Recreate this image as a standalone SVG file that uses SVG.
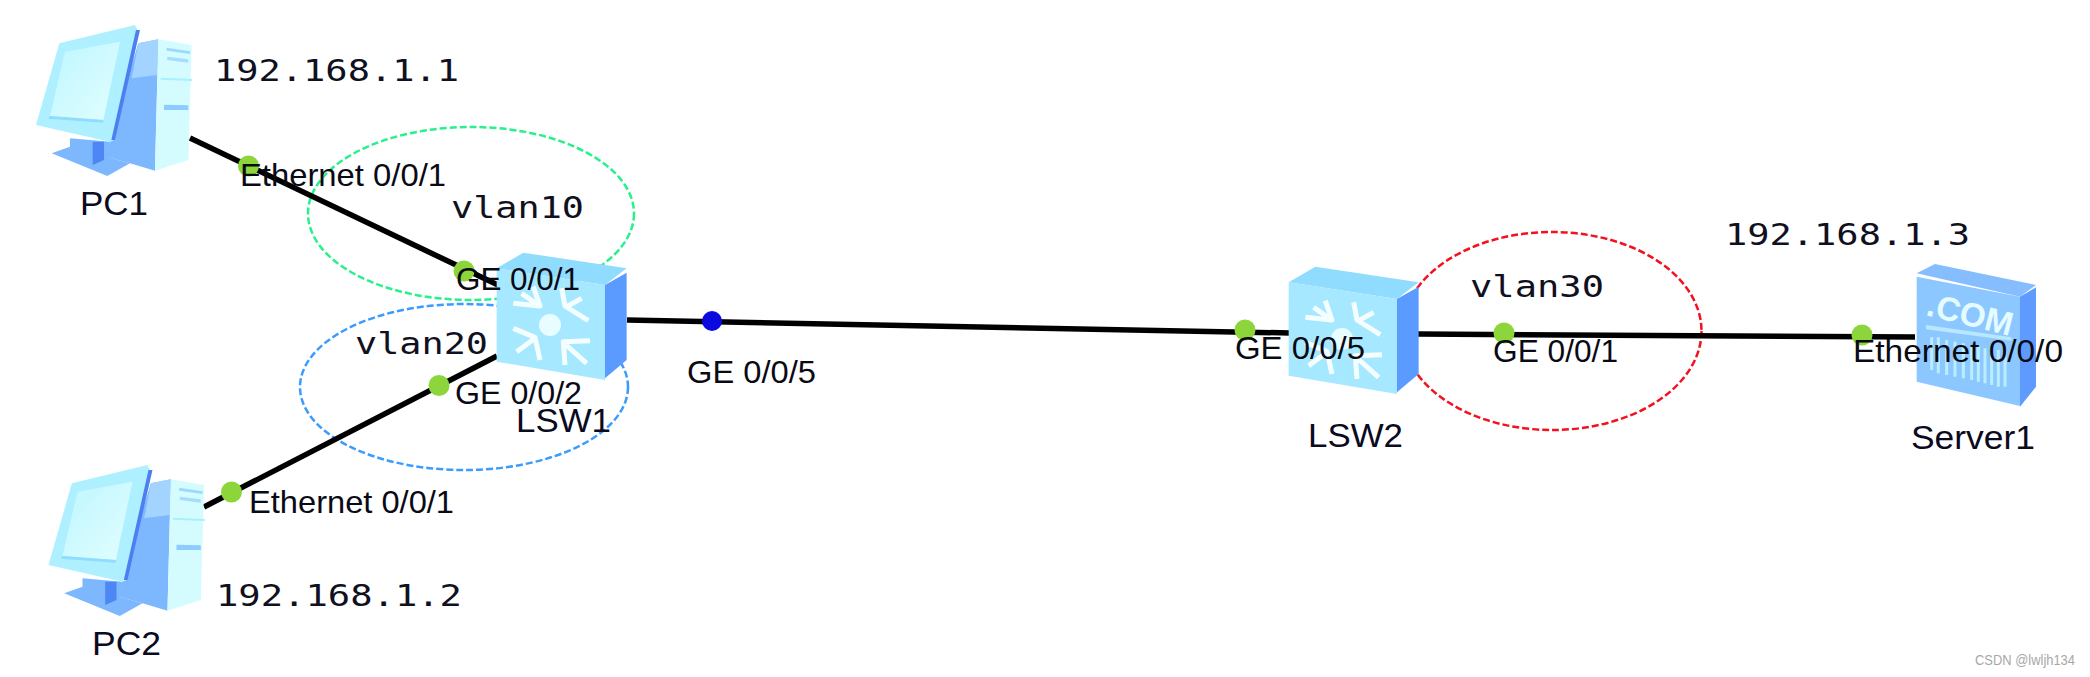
<svg xmlns="http://www.w3.org/2000/svg" xmlns:xlink="http://www.w3.org/1999/xlink" width="2090" height="677" viewBox="0 0 2090 677">
<style>
.lbl{font-family:"Liberation Sans",Arial,sans-serif;font-size:32px;fill:#0a0a14}
.name{font-family:"Liberation Sans",Arial,sans-serif;font-size:33px;fill:#0a0a20}
.mono{font-family:"DejaVu Sans Mono",monospace;font-size:30px;fill:#101020}
.wm{font-family:"Liberation Sans",Arial,sans-serif;font-size:15px;fill:#a8a8a8}
.vlan{fill:none;stroke-width:2.5;stroke-dasharray:7 3}
.link{stroke:#000;stroke-width:5.5;fill:none}
.port{fill:#8cd63c}
.arm{fill:none;stroke:#f4feff;stroke-width:15;stroke-linejoin:round}
</style>
<defs>
<linearGradient id="scr" x1="0" y1="0" x2="1" y2="1"><stop offset="0" stop-color="#bdf6ff"/><stop offset="1" stop-color="#e2feff"/></linearGradient>
<g id="pcIcon">
<polygon points="355,100 415,88 405,482 330,460 258,440 285,330" fill="#7db8ff"/>
<polygon points="355,100 415,88 412,195 335,205" fill="#a3d4ff"/>
<polygon points="415,88 515,105 505,450 405,482" fill="#d4fcff"/>
<polygon points="440,113 510,124 510,132 440,122" fill="#9fd8ff"/>
<polygon points="442,140 505,148 505,158 442,150" fill="#a8dcff"/>
<polygon points="422,203 517,207 517,213 422,209" fill="#a6f0ff"/>
<polygon points="432,284 505,286 505,300 432,300" fill="#8ecbff"/>
<polygon points="150,385 270,395 260,440 330,460 262,498 95,430 150,410" fill="#7db8ff"/>
<polygon points="218,395 252,395 252,450 218,465" fill="#4d86f5"/>
<polygon points="118,100 345,45 352,60 280,392 270,395 48,345" fill="#aef0ff"/>
<polygon points="135,125 300,95 250,330 90,318" fill="url(#scr)"/>
<polygon points="348,60 360,60 285,390 274,390" fill="#4d7ff0"/>
<polygon points="90,318 250,330 250,338 85,326" fill="#8fdcff"/>
</g>
<g id="swIcon">
<polygon points="130,8 440,55 375,105 50,55" fill="#8fdcff"/>
<polygon points="50,55 375,105 375,390 50,335" fill="#a6e8ff"/>
<polygon points="375,105 440,68 440,330 375,385" fill="#5b9bff"/>
<circle cx="210" cy="225" r="33" fill="#e8fdff"/>
<path class="arm" d="M160,110 L180,168 L100,160 M125,130 L175,165"/>
<path class="arm" d="M245,115 L255,168 L325,212 M305,145 L260,170"/>
<path class="arm" d="M100,235 L165,262 L180,330 M110,305 L165,265"/>
<path class="arm" d="M330,272 L250,275 L255,345 M320,340 L255,282"/>
</g>
<g id="srvIcon">
<polygon points="50,70 105,42 408,105 360,140" fill="#85bdff"/>
<polygon points="50,80 360,140 360,468 50,395" fill="#8cc8ff"/>
<polygon points="360,140 408,112 408,410 360,470" fill="#5f9bff"/>
<polygon points="78,225 335,262 335,272 78,238" fill="#b8e8ff"/>
<path d="M95,262V360M115,262V370M140,270V375M165,275V380M190,280V385M215,285V390M235,290V395M255,295V400M275,295V405M295,300V410M315,300V410" stroke="#b8eeff" stroke-width="9" fill="none"/>
<text transform="rotate(14 75 195)" x="75" y="195" font-family="Liberation Sans,sans-serif" font-weight="700" font-size="100" fill="#e4fbff" textLength="262" lengthAdjust="spacingAndGlyphs">.COM</text>
</g>
</defs>
<rect width="2090" height="677" fill="#fff"/>
<g id="regions">
<ellipse class="vlan" cx="471" cy="213.5" rx="163" ry="86.5" stroke="#28f08c"/>
<ellipse class="vlan" cx="464" cy="387" rx="164" ry="83" stroke="#3a9cff"/>
<ellipse class="vlan" cx="1552" cy="331" rx="149.5" ry="99" stroke="#f51020"/>
</g>
<g id="connectors">
<line class="link" x1="190" y1="138" x2="498" y2="285"/>
<line class="link" x1="204" y1="507" x2="497" y2="356"/>
<line class="link" x1="627" y1="320" x2="1290" y2="333"/>
<line class="link" x1="1418" y1="334" x2="1915" y2="337"/>
</g>
<g id="PC1"><use xlink:href="#pcIcon" href="#pcIcon" transform="translate(20,10) scale(.3333)"/>
<text class="name" x="80" y="215" textLength="68" lengthAdjust="spacingAndGlyphs">PC1</text>
<text class="mono" x="214" y="81" textLength="245" lengthAdjust="spacingAndGlyphs">192.168.1.1</text></g>
<g id="PC2"><use xlink:href="#pcIcon" href="#pcIcon" transform="translate(32.5,450) scale(.3333)"/>
<text class="name" x="92" y="655" textLength="69" lengthAdjust="spacingAndGlyphs">PC2</text>
<text class="mono" x="216" y="606" textLength="246" lengthAdjust="spacingAndGlyphs">192.168.1.2</text></g>
<g id="LSW1"><use xlink:href="#swIcon" href="#swIcon" transform="translate(480,250) scale(.3333)"/>
<text class="name" x="516" y="432" textLength="95" lengthAdjust="spacingAndGlyphs">LSW1</text></g>
<g id="LSW2"><use xlink:href="#swIcon" href="#swIcon" transform="translate(1272,264) scale(.3333)"/>
<text class="name" x="1308" y="447" textLength="95" lengthAdjust="spacingAndGlyphs">LSW2</text></g>
<g id="Server1"><use xlink:href="#srvIcon" href="#srvIcon" transform="translate(1900,250) scale(.3333)"/>
<text class="name" x="1911" y="449" textLength="124" lengthAdjust="spacingAndGlyphs">Server1</text>
<text class="mono" x="1725" y="245" textLength="245" lengthAdjust="spacingAndGlyphs">192.168.1.3</text></g>
<g id="ports">
<circle class="port" cx="248.5" cy="166" r="10.5"/>
<circle class="port" cx="464" cy="271" r="10.5"/>
<circle class="port" cx="439" cy="385.5" r="10.5"/>
<circle class="port" cx="231.5" cy="492" r="10.5"/>
<circle cx="712" cy="321" r="10" fill="#0a0ae0"/>
<circle class="port" cx="1245" cy="330" r="10.5"/>
<circle class="port" cx="1504" cy="333" r="10.5"/>
<circle class="port" cx="1862" cy="335" r="10.5"/>
</g>
<g id="portLabels">
<text class="lbl" x="240" y="186" textLength="206" lengthAdjust="spacingAndGlyphs">Ethernet 0/0/1</text>
<text class="lbl" x="456" y="290" textLength="124" lengthAdjust="spacingAndGlyphs">GE 0/0/1</text>
<text class="lbl" x="455" y="404" textLength="127" lengthAdjust="spacingAndGlyphs">GE 0/0/2</text>
<text class="lbl" x="249" y="512.500" textLength="205" lengthAdjust="spacingAndGlyphs">Ethernet 0/0/1</text>
<text class="lbl" x="687" y="383" textLength="129" lengthAdjust="spacingAndGlyphs">GE 0/0/5</text>
<text class="lbl" x="1235" y="359" textLength="130" lengthAdjust="spacingAndGlyphs">GE 0/0/5</text>
<text class="lbl" x="1493" y="362" textLength="125" lengthAdjust="spacingAndGlyphs">GE 0/0/1</text>
<text class="lbl" x="1853" y="362" textLength="210" lengthAdjust="spacingAndGlyphs">Ethernet 0/0/0</text>
</g>
<g id="vlanLabels">
<text class="mono" x="451" y="218" textLength="133" lengthAdjust="spacingAndGlyphs">vlan10</text>
<text class="mono" x="355" y="354" textLength="133" lengthAdjust="spacingAndGlyphs">vlan20</text>
<text class="mono" x="1470" y="297" textLength="134" lengthAdjust="spacingAndGlyphs">vlan30</text>
</g>
<text class="wm" x="1975" y="665" textLength="100" lengthAdjust="spacingAndGlyphs">CSDN @lwljh134</text>
</svg>
